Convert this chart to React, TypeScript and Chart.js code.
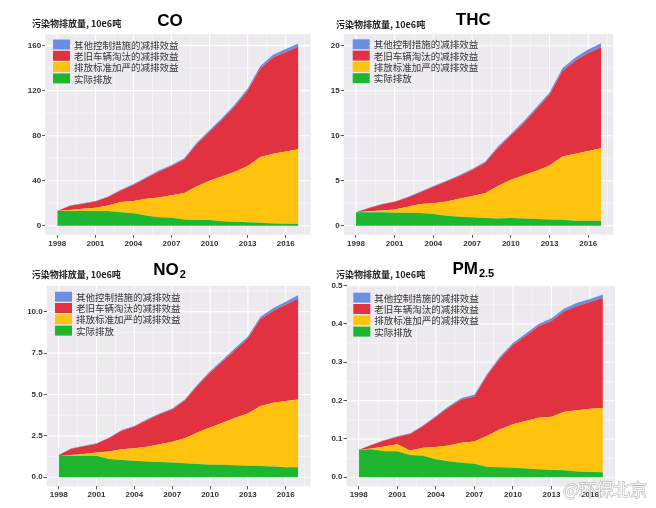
import { useEffect, useRef } from 'react';
import { Chart, registerables } from 'chart.js';

Chart.register(...registerables);

// Years on the x axis
const YEARS = [1998, 1999, 2000, 2001, 2002, 2003, 2004, 2005, 2006, 2007, 2008, 2009, 2010, 2011, 2012, 2013, 2014, 2015, 2016, 2017];
const X_TICKS = [1998, 2001, 2004, 2007, 2010, 2013, 2016];

// CO (10e6 t): actual emission and the three reduction benefits stacked above it
const CO_ACTUAL = [13, 13, 13, 13, 13, 12, 11, 9, 7.5, 7, 5.5, 5, 5, 4, 3.5, 3, 2.5, 2, 1.8, 1.5];
const CO_STANDARD = [0, 1, 2, 3, 5, 9, 11, 15, 17.5, 20, 23.5, 30, 35, 40, 44.5, 50, 58.5, 62, 64.2, 66.5];
const CO_SCRAPPAGE = [0, 3.7, 4.6, 5.5, 7.4, 10.3, 14.2, 18.1, 23, 26, 29.9, 37.7, 43.5, 50.3, 58.1, 67, 78.7, 85.4, 88.2, 91];
const CO_OTHER = [0, 0.3, 0.4, 0.5, 0.6, 0.7, 0.8, 0.9, 1.0, 1.0, 1.1, 1.3, 1.5, 1.7, 1.9, 2.0, 2.3, 2.6, 2.8, 3.0];
const CO_Y_TICKS = [0, 40, 80, 120, 160];

// THC
const THC_ACTUAL = [1.5, 1.5, 1.5, 1.45, 1.45, 1.4, 1.3, 1.1, 1.0, 0.95, 0.85, 0.8, 0.85, 0.8, 0.75, 0.7, 0.65, 0.55, 0.55, 0.55];
const THC_STANDARD = [0, 0.1, 0.2, 0.35, 0.65, 1.0, 1.2, 1.6, 2.0, 2.35, 2.75, 3.6, 4.25, 4.8, 5.35, 6.0, 7.05, 7.45, 7.75, 8.05];
const THC_SCRAPPAGE = [0, 0.37, 0.66, 0.85, 1.04, 1.33, 1.82, 2.21, 2.5, 2.89, 3.38, 4.25, 4.92, 5.8, 6.88, 7.85, 9.5, 10.35, 10.9, 11.25];
const THC_OTHER = [0, 0.03, 0.04, 0.05, 0.06, 0.07, 0.08, 0.09, 0.1, 0.11, 0.12, 0.15, 0.18, 0.2, 0.22, 0.25, 0.3, 0.35, 0.4, 0.45];
const THC_Y_TICKS = [0, 5, 10, 15, 20];

// NO2
const NO2_ACTUAL = [1.35, 1.3, 1.3, 1.3, 1.1, 1.05, 1.0, 0.95, 0.92, 0.9, 0.85, 0.8, 0.75, 0.75, 0.72, 0.7, 0.68, 0.65, 0.6, 0.6];
const NO2_STANDARD = [0, 0.05, 0.1, 0.2, 0.45, 0.65, 0.75, 0.9, 1.08, 1.25, 1.5, 1.9, 2.25, 2.55, 2.88, 3.15, 3.62, 3.85, 4.0, 4.1];
const NO2_SCRAPPAGE = [0, 0.38, 0.48, 0.52, 0.82, 1.11, 1.31, 1.6, 1.8, 1.94, 2.29, 2.82, 3.31, 3.7, 4.09, 4.53, 5.26, 5.54, 5.82, 6.1];
const NO2_OTHER = [0, 0.02, 0.02, 0.03, 0.03, 0.04, 0.04, 0.05, 0.05, 0.06, 0.06, 0.08, 0.09, 0.1, 0.11, 0.12, 0.14, 0.16, 0.18, 0.2];
const NO2_Y_TICKS = [0, 2.5, 5, 7.5, 10];

// PM2.5
const PM25_ACTUAL = [0.072, 0.073, 0.068, 0.068, 0.058, 0.056, 0.047, 0.042, 0.038, 0.035, 0.027, 0.026, 0.025, 0.023, 0.021, 0.019, 0.018, 0.015, 0.014, 0.013];
const PM25_STANDARD = [0, 0.002, 0.012, 0.018, 0.012, 0.021, 0.032, 0.041, 0.052, 0.058, 0.081, 0.099, 0.113, 0.124, 0.134, 0.139, 0.153, 0.16, 0.165, 0.168];
const PM25_SCRAPPAGE = [0, 0.009, 0.016, 0.019, 0.043, 0.056, 0.078, 0.099, 0.113, 0.118, 0.158, 0.185, 0.207, 0.222, 0.239, 0.25, 0.262, 0.272, 0.278, 0.287];
const PM25_OTHER = [0, 0.001, 0.001, 0.002, 0.002, 0.002, 0.003, 0.003, 0.004, 0.004, 0.004, 0.005, 0.005, 0.006, 0.006, 0.007, 0.007, 0.008, 0.008, 0.009];
const PM25_Y_TICKS = [0, 0.1, 0.2, 0.3, 0.4, 0.5];

// Stack order bottom -> top
const SERIES_NAMES = ['实际排放', '排放标准加严的减排效益', '老旧车辆淘汰的减排效益', '其他控制措施的减排效益'];
const Y_LABEL = '污染物排放量, 10e6吨';
const WATERMARK = '@环保北京';

// Styling
const SERIES_COLORS = ['#1EB530', '#FFC20F', '#E2313F', '#6C8EE0'];
const PANEL_BG = '#ECEAEF';
const TICK_FONT = { family: '"Liberation Sans", Arial, sans-serif', size: 8, weight: 'bold' as const };
const TICK_COLOR = '#333333';
const CJK = '"Noto Sans CJK SC", "Noto Sans", sans-serif';

const QW = 328;
const QH = 254;
const Y_AXIS_W = 20;
const X_AXIS_H = 20;

type Panel = {
  title: string;
  sub: string;
  left: number;
  top: number;
  series: number[][];
  yMin: number;
  yMax: number;
  yTicks: number[];
  yDigits: number;
  area: { l: number; r: number; t: number; b: number };
  xMin: number;
  xMax: number;
  titleX: number;
  titleY: number;
  labelX: number;
  labelY: number;
  legendX: number;
  legendY: number;
  watermark?: boolean;
};

const PANELS: Panel[] = [
  {
    title: 'CO', sub: '', left: 0, top: 0,
    series: [CO_ACTUAL, CO_STANDARD, CO_SCRAPPAGE, CO_OTHER],
    yMin: -8.1, yMax: 170.1, yTicks: CO_Y_TICKS, yDigits: 0,
    area: { l: 45.2, r: 310.5, t: 34.3, b: 234.8 }, xMin: 1997.05, xMax: 2017.95,
    titleX: 170, titleY: 20, labelX: 32, labelY: 24, legendX: 53, legendY: 39.5,
  },
  {
    title: 'THC', sub: '', left: QW, top: 0,
    series: [THC_ACTUAL, THC_STANDARD, THC_SCRAPPAGE, THC_OTHER],
    yMin: -1.015, yMax: 21.315, yTicks: THC_Y_TICKS, yDigits: 0,
    area: { l: 15.7, r: 285.4, t: 34, b: 234.8 }, xMin: 1997.05, xMax: 2017.95,
    titleX: 145.3, titleY: 19.7, labelX: 8, labelY: 24.3, legendX: 24.7, legendY: 39.3,
  },
  {
    title: 'NO', sub: '2', left: 0, top: QH,
    series: [NO2_ACTUAL, NO2_STANDARD, NO2_SCRAPPAGE, NO2_OTHER],
    yMin: -0.55, yMax: 11.55, yTicks: NO2_Y_TICKS, yDigits: 1,
    area: { l: 46.7, r: 310.3, t: 32, b: 232.4 }, xMin: 1997.05, xMax: 2017.95,
    titleX: 169.5, titleY: 15, labelX: 31.7, labelY: 20.7, legendX: 55, legendY: 37.7,
  },
  {
    title: 'PM', sub: '2.5', left: QW, top: QH,
    series: [PM25_ACTUAL, PM25_STANDARD, PM25_SCRAPPAGE, PM25_OTHER],
    yMin: -0.02385, yMax: 0.50085, yTicks: PM25_Y_TICKS, yDigits: 1,
    area: { l: 18.5, r: 287.1, t: 31.3, b: 232.4 }, xMin: 1997.05, xMax: 2017.95,
    titleX: 145.3, titleY: 14, labelX: 8, labelY: 20.7, legendX: 25.3, legendY: 38.7,
    watermark: true,
  },
];

function panelDecor(p: Panel) {
  return {
    id: 'panelDecor',
    beforeDraw(chart: any) {
      const { ctx, chartArea: a, scales } = chart;
      const xs = scales.x;
      const ys = scales.y;
      ctx.save();
      ctx.fillStyle = PANEL_BG;
      ctx.fillRect(a.left, a.top, a.right - a.left, a.bottom - a.top);
      ctx.beginPath();
      ctx.rect(a.left, a.top, a.right - a.left, a.bottom - a.top);
      ctx.clip();
      const xStep = X_TICKS[1] - X_TICKS[0];
      const yStep = p.yTicks[1] - p.yTicks[0];
      // minor grid
      ctx.strokeStyle = 'rgba(255,255,255,0.75)';
      ctx.lineWidth = 0.6;
      for (let v = X_TICKS[0] - xStep / 2; v <= p.xMax; v += xStep) {
        const px = xs.getPixelForValue(v);
        ctx.beginPath(); ctx.moveTo(px, a.top); ctx.lineTo(px, a.bottom); ctx.stroke();
      }
      for (let v = p.yTicks[0] - yStep / 2; v <= p.yMax; v += yStep) {
        const py = ys.getPixelForValue(v);
        ctx.beginPath(); ctx.moveTo(a.left, py); ctx.lineTo(a.right, py); ctx.stroke();
      }
      // major grid
      ctx.strokeStyle = '#FFFFFF';
      ctx.lineWidth = 1.1;
      X_TICKS.forEach((v) => {
        const px = xs.getPixelForValue(v);
        ctx.beginPath(); ctx.moveTo(px, a.top); ctx.lineTo(px, a.bottom); ctx.stroke();
      });
      p.yTicks.forEach((v) => {
        const py = ys.getPixelForValue(v);
        ctx.beginPath(); ctx.moveTo(a.left, py); ctx.lineTo(a.right, py); ctx.stroke();
      });
      ctx.restore();
    },
    afterDraw(chart: any) {
      const { ctx } = chart;
      ctx.save();
      // title with optional subscript
      ctx.fillStyle = '#000000';
      ctx.textBaseline = 'middle';
      ctx.textAlign = 'left';
      const mainFont = 'bold 17px "Liberation Sans", Arial, sans-serif';
      const subFont = 'bold 11px "Liberation Sans", Arial, sans-serif';
      ctx.font = mainFont;
      const mw = ctx.measureText(p.title).width;
      ctx.font = subFont;
      const sw = p.sub ? ctx.measureText(p.sub).width + 1 : 0;
      const tx = p.titleX - (mw + sw) / 2;
      ctx.font = mainFont;
      ctx.fillText(p.title, tx, p.titleY + 1);
      if (p.sub) {
        ctx.font = subFont;
        ctx.fillText(p.sub, tx + mw + 1, p.titleY + 6);
      }
      // y-axis caption above the panel
      ctx.fillStyle = '#222222';
      ctx.font = `bold 9px ${CJK}`;
      ctx.fillText(Y_LABEL, p.labelX, p.labelY);
      // legend, top entry first
      ctx.font = `9.5px ${CJK}`;
      for (let k = 0; k < 4; k++) {
        const idx = 3 - k;
        const y = p.legendY + k * 11.3;
        ctx.fillStyle = SERIES_COLORS[idx];
        ctx.fillRect(p.legendX, y, 17, 10);
        ctx.fillStyle = '#333333';
        ctx.fillText(SERIES_NAMES[idx], p.legendX + 21, y + 5.5);
      }
      if (p.watermark) {
        ctx.font = `17px ${CJK}`;
        ctx.lineWidth = 1;
        ctx.strokeStyle = 'rgba(110,110,110,0.55)';
        ctx.fillStyle = 'rgba(255,255,255,0.85)';
        ctx.strokeText(WATERMARK, 235, 236);
        ctx.fillText(WATERMARK, 235, 236);
      }
      ctx.restore();
    },
  };
}

function PanelChart({ p }: { p: Panel }) {
  const ref = useRef<HTMLCanvasElement>(null);
  useEffect(() => {
    const canvas = ref.current;
    if (!canvas) return;
    const chart = new Chart(canvas, {
      type: 'line',
      data: {
        datasets: p.series.map((vals, i) => ({
          label: SERIES_NAMES[i],
          data: YEARS.map((yr, j) => ({ x: yr, y: vals[j] })),
          backgroundColor: SERIES_COLORS[i],
          borderColor: SERIES_COLORS[i],
          borderWidth: 0,
          pointRadius: 0,
          tension: 0,
          fill: i === 0 ? 'origin' : '-1',
        })),
      },
      options: {
        responsive: false,
        animation: false,
        devicePixelRatio: 1,
        events: [],
        layout: {
          padding: {
            left: p.area.l - Y_AXIS_W,
            right: QW - p.area.r,
            top: p.area.t,
            bottom: QH - p.area.b - X_AXIS_H,
          },
        },
        plugins: {
          legend: { display: false },
          tooltip: { enabled: false },
          title: { display: false },
        },
        scales: {
          x: {
            type: 'linear',
            min: p.xMin,
            max: p.xMax,
            afterFit: (s: any) => { s.height = X_AXIS_H; },
            afterBuildTicks: (s: any) => { s.ticks = X_TICKS.map((v) => ({ value: v })); },
            grid: { drawOnChartArea: false, tickLength: 3, color: '#555555', lineWidth: 1 },
            border: { display: false },
            ticks: {
              font: TICK_FONT,
              color: TICK_COLOR,
              padding: 1,
              maxRotation: 0,
              autoSkip: false,
              callback: (v: any) => String(v),
            },
          },
          y: {
            type: 'linear',
            stacked: true,
            min: p.yMin,
            max: p.yMax,
            afterFit: (s: any) => { s.width = Y_AXIS_W; },
            afterBuildTicks: (s: any) => { s.ticks = p.yTicks.map((v) => ({ value: v })); },
            grid: { drawOnChartArea: false, tickLength: 3, color: '#555555', lineWidth: 1 },
            border: { display: false },
            ticks: {
              font: TICK_FONT,
              color: TICK_COLOR,
              padding: 1,
              autoSkip: false,
              callback: (v: any) => Number(v).toFixed(p.yDigits),
            },
          },
        },
      },
      plugins: [panelDecor(p)],
    });
    return () => chart.destroy();
  }, [p]);
  return (
    <canvas
      ref={ref}
      width={QW}
      height={QH}
      style={{ position: 'absolute', left: p.left, top: p.top, width: QW, height: QH }}
    />
  );
}

export default function App() {
  return (
    <div style={{ position: 'absolute', left: 0, top: 0, width: 656, height: 508, background: '#FFFFFF' }}>
      {PANELS.map((p) => (
        <PanelChart key={p.title + p.sub} p={p} />
      ))}
    </div>
  );
}
